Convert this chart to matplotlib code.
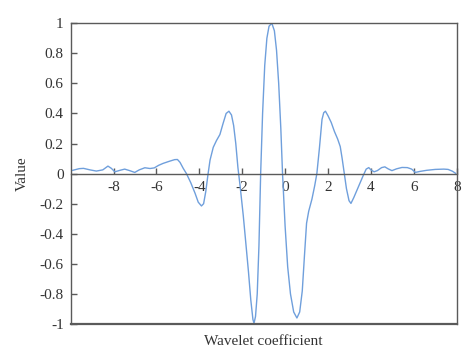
import matplotlib
matplotlib.use("Agg")
import matplotlib.pyplot as plt

# Pontos (coeficiente, valor)
coef = [-9.9, -9.6, -9.4, -9.1, -8.8, -8.5, -8.26, -8.1, -7.94, -7.7,
        -7.48, -7.25, -7.01, -6.8, -6.54, -6.3, -6.1, -5.9, -5.69, -5.4,
        -5.15, -5.02, -4.9, -4.75, -4.6, -4.4, -4.2, -4.05, -3.9, -3.8,
        -3.7, -3.6, -3.5, -3.35, -3.2, -3.04, -2.9, -2.75, -2.62, -2.5,
        -2.4, -2.3, -2.2, -2.1, -1.95, -1.82, -1.71, -1.6, -1.5, -1.45,
        -1.38, -1.3, -1.22, -1.14, -1.05, -0.95, -0.85, -0.75, -0.62, -0.5,
        -0.4, -0.3, -0.2, -0.12, 0.0, 0.12, 0.25, 0.4, 0.55, 0.68,
        0.8, 0.9, 1.0, 1.1, 1.25, 1.38, 1.48, 1.6, 1.72, 1.8,
        1.88, 2.0, 2.15, 2.3, 2.45, 2.57, 2.66, 2.76, 2.86, 2.98,
        3.07, 3.2, 3.35, 3.5, 3.65, 3.78, 3.9, 4.0, 4.15, 4.3,
        4.5, 4.65, 4.8, 4.98, 5.2, 5.45, 5.7, 5.9, 6.07, 6.3,
        6.6, 7.0, 7.4, 7.6, 7.8, 7.95]
valor = [0.022, 0.033, 0.035, 0.025, 0.017, 0.025, 0.05, 0.035, 0.012, 0.022,
         0.03, 0.02, 0.008, 0.025, 0.039, 0.034, 0.038, 0.055, 0.068, 0.082,
         0.093, 0.094, 0.075, 0.035, 0.0, -0.06, -0.13, -0.19, -0.215, -0.2,
         -0.12, -0.01, 0.09, 0.175, 0.22, 0.26, 0.33, 0.4, 0.415, 0.39,
         0.32, 0.2, 0.04, -0.08, -0.28, -0.48, -0.65, -0.84, -0.97, -0.995,
         -0.95, -0.8, -0.48, 0.0, 0.4, 0.72, 0.9, 0.98, 1.0, 0.95,
         0.82, 0.6, 0.3, 0.0, -0.35, -0.62, -0.8, -0.92, -0.96, -0.92,
         -0.78, -0.55, -0.33, -0.25, -0.17, -0.08, 0.0, 0.17, 0.36, 0.405,
         0.415, 0.385, 0.34, 0.28, 0.23, 0.18, 0.1, 0.0, -0.1, -0.18,
         -0.198, -0.16, -0.11, -0.06, -0.01, 0.03, 0.04, 0.025, 0.012, 0.02,
         0.04, 0.045, 0.032, 0.02, 0.032, 0.041, 0.04, 0.03, 0.008, 0.015,
         0.022, 0.028, 0.03, 0.028, 0.016, 0.002]

xticks = [-8, -6, -4, -2, 0, 2, 4, 6, 8]
yticks = [-1, -0.8, -0.6, -0.4, -0.2, 0, 0.2, 0.4, 0.6, 0.8, 1]
ytick_labels = ["-1", "-0.8", "-0.6", "-0.4", "-0.2", "0", "0.2", "0.4", "0.6", "0.8", "1"]

plt.rcParams["font.family"] = ["Liberation Serif", "DejaVu Serif"]
plt.rcParams["axes.unicode_minus"] = False

cor_eixo = "#5a5a5a"

fig = plt.figure(figsize=(4.74, 3.63), dpi=100)
ax = fig.add_axes([0.149, 0.1074, 0.8145, 0.8286])

ax.plot(coef, valor, color="#6f9fdc", linewidth=1.0)

ax.set_xlim(-10, 8)
ax.set_ylim(-1, 1)

# eixo x cruzando em zero
ax.spines["bottom"].set_position(("data", 0))
for s in ax.spines.values():
    s.set_color(cor_eixo)
    s.set_linewidth(1.0)
ax.axhline(-1, color=cor_eixo, linewidth=1.6, clip_on=False)

ax.set_xticks(xticks)
ax.set_xticklabels([str(t) for t in xticks])
ax.set_yticks(yticks)
ax.set_yticklabels(ytick_labels)
ax.tick_params(axis="both", direction="in", length=4, width=1, color=cor_eixo,
               labelsize=11, labelcolor="#333333")
ax.tick_params(axis="x", pad=5)
ax.tick_params(axis="y", pad=5)

ax.set_ylabel("Value", fontsize=11, color="#333333", labelpad=8)
fig.text(0.556, 0.058, "Wavelet coefficient", ha="center", va="center",
         fontsize=11, color="#333333")

fig.savefig("out.png", dpi=100)
